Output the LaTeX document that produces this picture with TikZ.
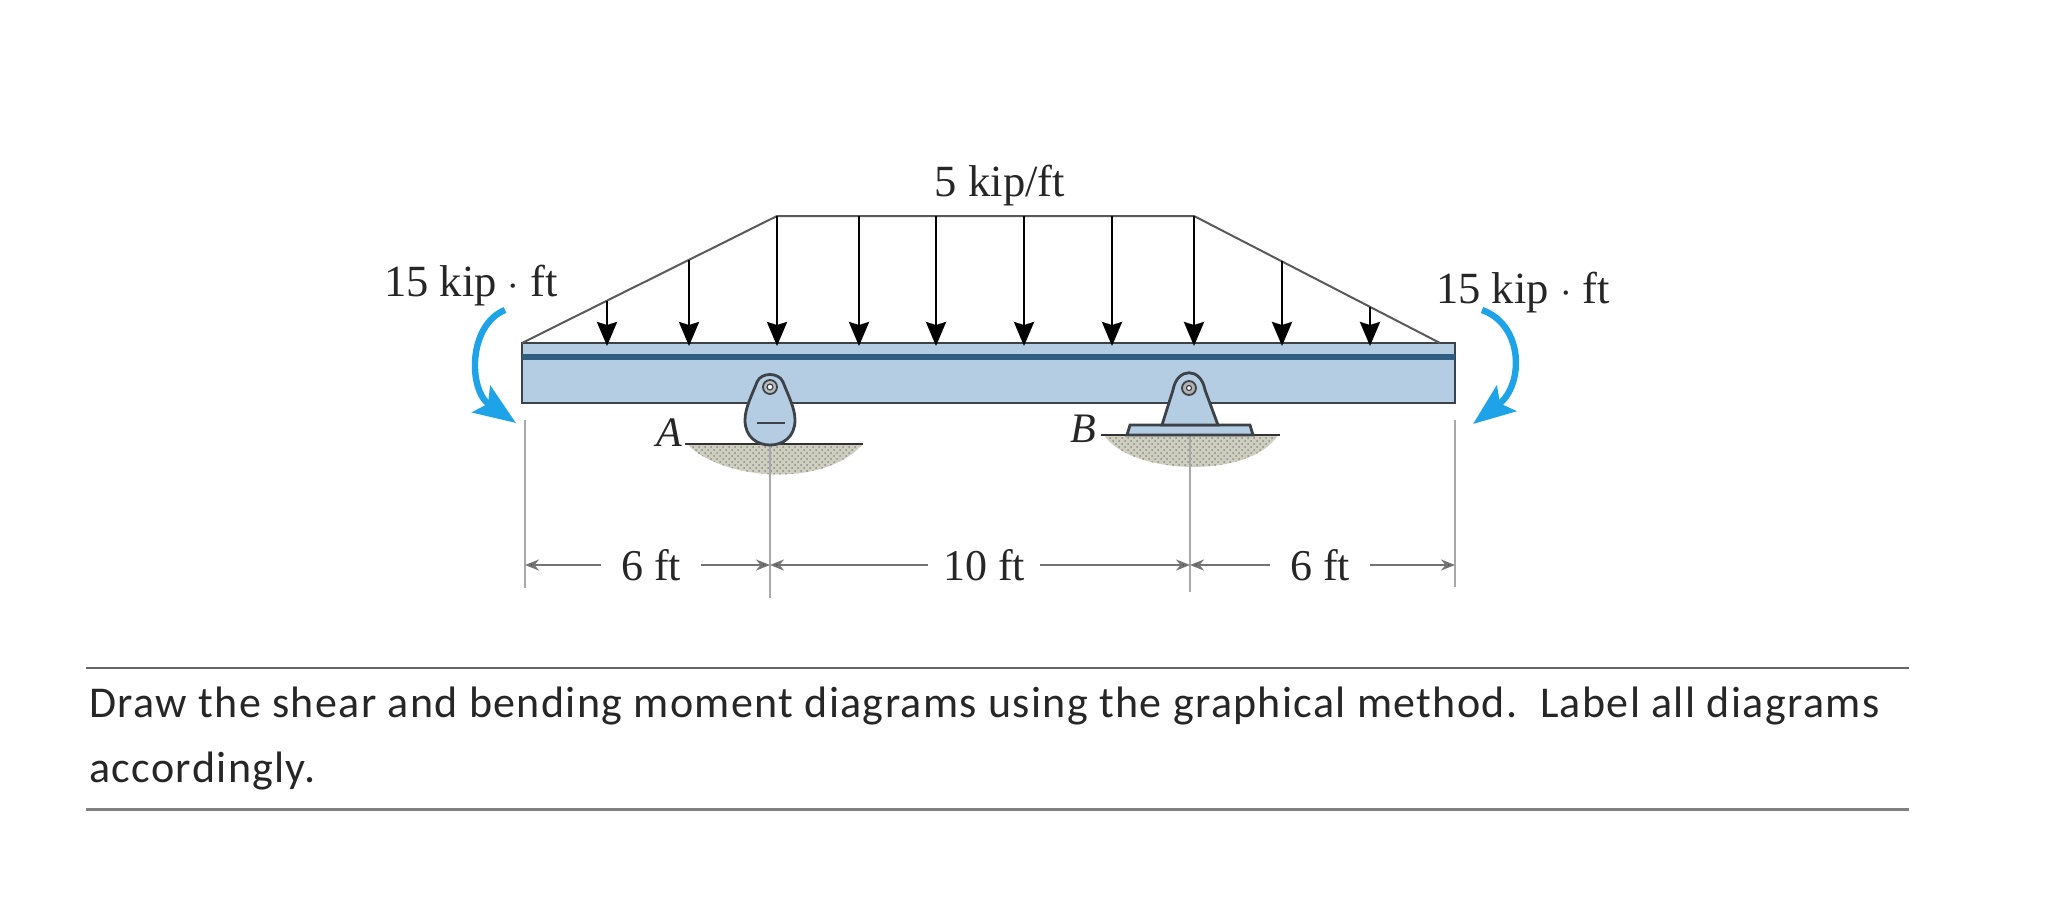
\documentclass[tikz,border=0pt]{standalone}
\usepackage{fontspec}
\setmainfont{Liberation Serif}
\newfontfamily\noticefont[LetterSpace=3.1]{Carlito}
\usetikzlibrary{arrows.meta,patterns}
\definecolor{beamblue}{HTML}{B5CDE2}
\definecolor{bandblue}{HTML}{2F5F80}
\definecolor{edgegrey}{HTML}{3C4248}
\definecolor{momentblue}{HTML}{1FA3E8}
\definecolor{groundgrey}{HTML}{CFCFC0}
\definecolor{dimgrey}{HTML}{A8A8A8}
\begin{document}
\begin{tikzpicture}[x=0.5pt, y=-0.5pt]
\tikzset{loadarrow/.style={draw=black, line width=1.4pt, -{Stealth[length=12pt, width=10pt, inset=1.5pt]}}}
\tikzset{momentarrow/.style={draw=momentblue, line width=3.2pt, -{Stealth[length=21pt, width=16pt, inset=4pt]}}}
\tikzset{dimarrow/.style={draw=black!55, line width=1pt, -{Stealth[length=7pt, width=5.5pt, fill=black]}}}
\tikzset{dimline/.style={draw=dimgrey, line width=1pt}}
\tikzset{steel/.style={draw=edgegrey, fill=beamblue, line width=1.4pt}}
\tikzset{ground/.style={draw=none, fill=groundgrey}}
\tikzset{grounddots/.style={draw=none, pattern=crosshatch dots, pattern color=black!45}}
\tikzset{lab/.style={inner sep=0pt, text=black!85, font=\fontsize{22.3}{24}\selectfont}}
\tikzset{dimlab/.style={lab, font=\fontsize{22}{24}\selectfont}}
\tikzset{notice/.style={inner sep=0pt, anchor=base west, text=black!85, font=\noticefont\fontsize{22}{24}\selectfont}}
\useasboundingbox (0,0) rectangle (2046,912);
% beam
\draw[steel] (522,343) rectangle (1455,403);
\fill[bandblue] (522,354) rectangle (1455,360);
% load profile
\coordinate (P1) at (522,343);
\coordinate (P2) at (777,216);
\coordinate (P3) at (1194,216);
\coordinate (P4) at (1440,343);
\draw[draw=black!65, line width=1pt] (P1) -- (P2) -- (P3) -- (P4);
\coordinate (T1) at (607,301);
\coordinate (T2) at (689,260);
\coordinate (T3) at (777,216);
\coordinate (T4) at (859,216);
\coordinate (T5) at (936,216);
\coordinate (T6) at (1024,216);
\coordinate (T7) at (1112,216);
\coordinate (T8) at (1194,216);
\coordinate (T9) at (1282,261);
\coordinate (T10) at (1370,307);
\coordinate (L1) at (607,346);
\coordinate (L2) at (689,346);
\coordinate (L3) at (777,346);
\coordinate (L4) at (859,346);
\coordinate (L5) at (936,346);
\coordinate (L6) at (1024,346);
\coordinate (L7) at (1112,346);
\coordinate (L8) at (1194,346);
\coordinate (L9) at (1282,346);
\coordinate (L10) at (1370,346);
\draw[loadarrow] (T1) -- (L1);
\draw[loadarrow] (T2) -- (L2);
\draw[loadarrow] (T3) -- (L3);
\draw[loadarrow] (T4) -- (L4);
\draw[loadarrow] (T5) -- (L5);
\draw[loadarrow] (T6) -- (L6);
\draw[loadarrow] (T7) -- (L7);
\draw[loadarrow] (T8) -- (L8);
\draw[loadarrow] (T9) -- (L9);
\draw[loadarrow] (T10) -- (L10);
% ground
\fill[ground] (688,445) .. controls (720,478) and (820,490) .. (862,445) -- cycle;
\fill[grounddots] (688,445) .. controls (720,478) and (820,490) .. (862,445) -- cycle;
\fill[ground] (1104,435) .. controls (1130,475) and (1250,480) .. (1278,435) -- cycle;
\fill[grounddots] (1104,435) .. controls (1130,475) and (1250,480) .. (1278,435) -- cycle;
% dimension lines
\coordinate (D1t) at (525,420);
\coordinate (D1b) at (525,588);
\coordinate (D2t) at (770,445);
\coordinate (D2b) at (770,598);
\coordinate (D3t) at (1190,435);
\coordinate (D3b) at (1190,592);
\coordinate (D4t) at (1455,420);
\coordinate (D4b) at (1455,587);
\draw[dimline] (D1t) -- (D1b);
\draw[dimline] (D2t) -- (D2b);
\draw[dimline] (D3t) -- (D3b);
\draw[dimline] (D4t) -- (D4b);
\node[dimlab] (dimA) at (651,565) {6 ft};
\node[dimlab] (dimB) at (984,565) {10 ft};
\node[dimlab] (dimC) at (1320,565) {6 ft};
\coordinate (E1) at (525,565);
\coordinate (E2) at (770,565);
\coordinate (E3) at (1190,565);
\coordinate (E4) at (1455,565);
\draw[dimarrow] (dimA.west) ++(-20,0) -- (E1);
\draw[dimarrow] (dimA.east) ++(20,0) -- (E2);
\draw[dimarrow] (dimB.west) ++(-15,0) -- (E2);
\draw[dimarrow] (dimB.east) ++(15,0) -- (E3);
\draw[dimarrow] (dimC.west) ++(-20,0) -- (E3);
\draw[dimarrow] (dimC.east) ++(20,0) -- (E4);
% support A
\draw[draw=black!80, line width=1.4pt] (685,444) -- (863,444);
\draw[steel] (745,420) .. controls (745,437) and (757,445) .. (770,445) .. controls (783,445) and (795,437) .. (795,420) .. controls (795,408) and (788,395) .. (783,382) .. controls (779,372) and (761,372) .. (757,382) .. controls (752,395) and (745,408) .. (745,420) -- cycle;
\draw[draw=edgegrey, line width=0.7pt] (757,423) -- (785,423);
\draw[draw=edgegrey, fill=black!25, line width=0.9pt] (770,387) circle [radius=7];
\draw[draw=edgegrey, fill=white, line width=0.6pt] (770,387) circle [radius=3];
% support B
\draw[draw=black!80, line width=1.4pt] (1101,435) -- (1280,435);
\draw[steel] (1127,435) -- (1130,425) -- (1250,425) -- (1253,435) -- cycle;
\draw[steel] (1162,425) -- (1173,390) .. controls (1177,367) and (1201,367) .. (1205,390) -- (1218,425) -- cycle;
\draw[draw=edgegrey, fill=black!30, line width=0.9pt] (1189,388) circle [radius=7];
\draw[draw=edgegrey, fill=white, line width=0.6pt] (1189,388) circle [radius=2.5];
\node[dimlab, font=\itshape\fontsize{21}{24}\selectfont] (labA) at (669,433) {A};
\node[dimlab, font=\itshape\fontsize{21}{24}\selectfont] (labB) at (1083,429) {B};
% moments
\coordinate (M1s) at (505,310);
\coordinate (M1e) at (516,423);
\coordinate (M2s) at (1482,310);
\coordinate (M2e) at (1473,424);
\draw[momentarrow] (M1s) .. controls (468,325) and (468,390) .. (M1e);
\draw[momentarrow] (M2s) .. controls (1524,325) and (1524,385) .. (M2e);
% labels
\node[lab] (loadlab) at (1000,186) {5 kip/ft};
\node[lab] (momL) at (471,286) {15 kip $\cdot$ ft};
\node[lab] (momR) at (1523,293) {15 kip $\cdot$ ft};
% notice
\coordinate (R1a) at (86,668);
\coordinate (R1b) at (1909,668);
\coordinate (R2a) at (86,809);
\coordinate (R2b) at (1909,809);
\draw[draw=black!60, line width=1.2pt] (R1a) -- (R1b);
\draw[draw=black!50, line width=1.5pt] (R2a) -- (R2b);
\node[notice] (line1) at (89,717) {Draw the shear and bending moment diagrams using the graphical method.\ \ Label all diagrams};
\node[notice] (line2) at (89,782) {accordingly.};
\end{tikzpicture}
\end{document}
